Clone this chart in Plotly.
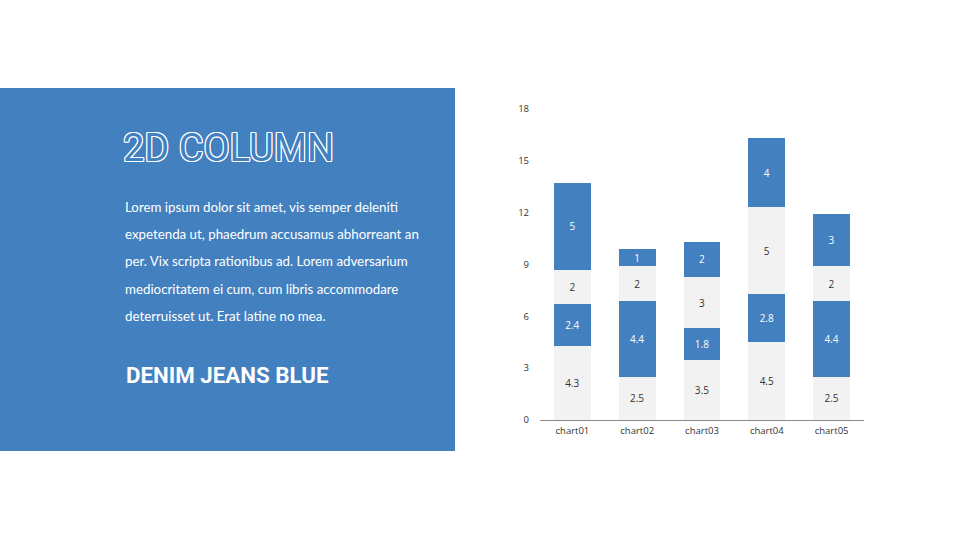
import plotly.graph_objects as go

categories = ["chart01", "chart02", "chart03", "chart04", "chart05"]
series1 = [4.3, 2.5, 3.5, 4.5, 2.5]
series2 = [2.4, 4.4, 1.8, 2.8, 4.4]
series3 = [2, 2, 3, 5, 2]
series4 = [5, 1, 2, 4, 3]
y_ticks = [0, 3, 6, 9, 12, 15, 18]

title_text = "2D COLUMN"
body_lines = [
    "Lorem ipsum dolor sit amet, vis semper deleniti",
    "expetenda ut, phaedrum accusamus abhorreant an",
    "per. Vix scripta rationibus ad. Lorem adversarium",
    "mediocritatem ei cum, cum libris accommodare",
    "deterruisset ut. Erat latine no mea.",
]
subtitle_text = "DENIM JEANS BLUE"

BLUE = "#4380C0"
GREY = "#F2F2F2"
W, H = 960, 540

fig = go.Figure()
for vals, col, tcol in [(series1, GREY, "#333333"), (series2, BLUE, "#FFFFFF"),
                        (series3, GREY, "#333333"), (series4, BLUE, "#FFFFFF")]:
    fig.add_trace(go.Bar(
        x=categories, y=vals, marker=dict(color=col, line=dict(width=0)),
        text=[str(v) for v in vals], textposition="inside", textangle=0,
        insidetextanchor="middle", constraintext="none",
        textfont=dict(color=tcol, size=10, family="Open Sans"),
        hoverinfo="skip", showlegend=False,
    ))

def px(x):
    return x / W

def py(y):
    return 1 - y / H

shapes = [dict(type="rect", xref="paper", yref="paper",
               x0=0, x1=px(455), y0=py(451), y1=py(88),
               fillcolor=BLUE, line=dict(width=0), layer="below")]

annotations = [dict(
    text=title_text, xref="paper", yref="paper", x=px(121), y=py(148),
    xanchor="left", yanchor="middle", showarrow=False,
    font=dict(family="Roboto", size=38, color=BLUE,
              shadow="1px 0 0 #fff, -1px 0 0 #fff, 0 1px 0 #fff, 0 -1px 0 #fff, 1px 1px 0 #fff, -1px -1px 0 #fff, 1px -1px 0 #fff, -1px 1px 0 #fff"),
)]
for i, line in enumerate(body_lines):
    annotations.append(dict(
        text=line, xref="paper", yref="paper", x=px(123), y=py(207 + i * 27.2),
        xanchor="left", yanchor="middle", showarrow=False,
        font=dict(family="Lato", size=13.3, color="#FFFFFF"),
    ))
annotations.append(dict(
    text="<b>" + subtitle_text + "</b>", xref="paper", yref="paper", x=px(124), y=py(375),
    xanchor="left", yanchor="middle", showarrow=False,
    font=dict(family="Roboto", size=22.3, color="#FFFFFF"),
))

fig.update_layout(
    width=W, height=H, barmode="stack", bargap=0.43,
    margin=dict(l=0, r=0, t=0, b=0, pad=0, autoexpand=False),
    paper_bgcolor="white", plot_bgcolor="white",
    shapes=shapes, annotations=annotations,
    xaxis=dict(domain=[px(540), px(864)], showgrid=False, zeroline=False,
               showline=True, linecolor="#8C8C8C", linewidth=1, automargin=False,
               ticks="", tickfont=dict(family="Open Sans", size=9.5, color="#333333"),
               ticklabelstandoff=2),
    yaxis=dict(domain=[py(420), py(109)], range=[0, 18], tickvals=y_ticks,
               showgrid=False, zeroline=False, showline=False, ticks="", automargin=False,
               tickfont=dict(family="Open Sans", size=9.5, color="#333333"),
               ticklabelstandoff=10),
)

post = ("document.documentElement.style.margin='0';"
        "document.body.style.margin='0';"
        "document.body.style.overflow='hidden';"
        "document.documentElement.style.overflow='hidden';"
        "var gd=document.getElementById('{plot_id}');"
        "gd.style.position='fixed';gd.style.top='0px';gd.style.left='0px';")

fig.write_html("out.html", config={"displayModeBar": False}, post_script=post)
